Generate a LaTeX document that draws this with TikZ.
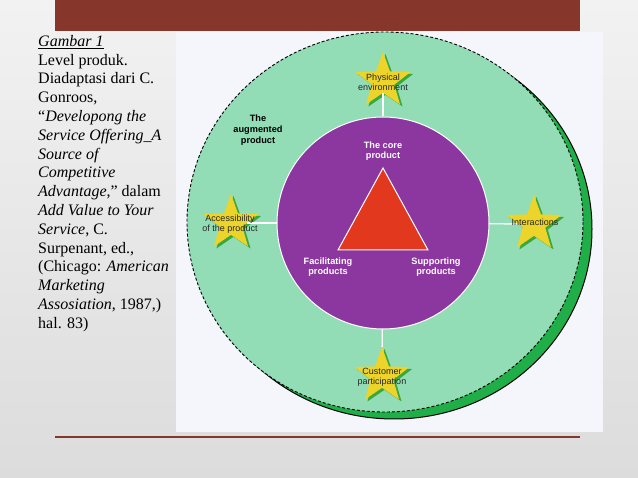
\documentclass[tikz,border=0pt]{standalone}
\usepackage{fontspec}
\setmainfont{Liberation Serif}
\newfontfamily\arialf{Liberation Sans}
\usetikzlibrary{shapes.geometric}
\definecolor{bgtop}{HTML}{F2F2F2}
\definecolor{bgbot}{HTML}{DCDCDC}
\definecolor{barbrown}{HTML}{86362A}
\definecolor{scanbg}{HTML}{F4F6FB}
\definecolor{mint}{HTML}{92DCB6}
\definecolor{shadowgreen}{HTML}{1FAE48}
\definecolor{corepurple}{HTML}{8C37A0}
\definecolor{trired}{HTML}{E2381E}
\definecolor{staryellow}{HTML}{EDD42A}
\definecolor{starshadow}{HTML}{3AA83C}
\definecolor{labeldark}{HTML}{262626}
\tikzset{
  starbase/.style={star, star points=5, star point ratio=2.45, minimum size=58, inner sep=0},
  starface/.style={starbase, fill=staryellow},
  starshade/.style={starbase, fill=starshadow},
  starlabel/.style={font=\arialf\fontsize{9}{10}\selectfont, text=labeldark, align=center, inner sep=0},
  corelabel/.style={font=\arialf\bfseries\fontsize{9.2}{10.6}\selectfont, text=white, align=center, inner sep=0},
  link/.style={draw=white, line width=1.4}
}
\begin{document}
\begin{tikzpicture}[x=1pt,y=-1pt]
\useasboundingbox (0,0) rectangle (638,478);
\shade[top color=bgtop, bottom color=bgbot] (0,0) rectangle (638,478);
\fill[barbrown] (55,0) rectangle (580,31);
\fill[scanbg] (176,32) rectangle (603,432);
\draw[barbrown, line width=1.6] (55,437) -- (580,437);

% caption
\node[anchor=north west, align=left, inner sep=0, font=\fontsize{16}{18.8}\selectfont] (caption) at (38,35) {%
\underline{\textit{Gambar 1}}\\
Level produk.\\
Diadaptasi dari C.\\
Gonroos,\\
“\textit{Developong the}\\
\textit{Service Offering\_A}\\
\textit{Source of}\\
\textit{Competitive}\\
\textit{Advantage},” dalam\\
\textit{Add Value to Your}\\
\textit{Service}, C.\\
Surpenant, ed.,\\
(Chicago: \textit{American}\\
\textit{Marketing}\\
\textit{Assosiation}, 1987,)\\
hal. 83)};

% outer rings
\filldraw[fill=shadowgreen, draw=black, line width=1] (394,229) ellipse [x radius=198, y radius=190];
\filldraw[fill=mint, draw=black, line width=0.9, dash pattern=on 3pt off 2pt] (385,222) ellipse [x radius=198, y radius=190];

% core
\node[circle, minimum size=212, inner sep=0, fill=corepurple, draw=white, line width=1] (core) at (383,223) {};
\filldraw[fill=trired, draw=white, line width=1] (383,168) -- (338,250) -- (428,250) -- cycle;

% stars
\node[starshade] (topsh) at (385.5,83) {};
\node[starface] (topstar) at (383,81) {};
\node[starshade] (leftsh) at (233.5,225) {};
\node[starface] (leftstar) at (231,223) {};
\node[starshade] (rightsh) at (536.5,226) {};
\node[starface] (rightstar) at (534,224) {};
\node[starshade] (botsh) at (384.5,378) {};
\node[starface] (botstar) at (382,376) {};

% links
\draw[link] (core) -- (topstar);
\draw[link] (core) -- (leftstar);
\draw[link] (core) -- (rightstar);
\draw[link] (core) -- (botstar);

% labels
\node[starlabel] (lphys) at (383,82) {Physical\\environment};
\node[starlabel] (lacc) at (230,224) {Accessibility\\of the product};
\node[starlabel] (lint) at (535,222) {Interactions};
\node[starlabel] (lcust) at (382,377) {Customer\\participation};

\node[corelabel] (lcore) at (383,151) {The core\\product};
\node[corelabel] (lfac) at (328,267) {Facilitating\\products};
\node[corelabel] (lsup) at (436,267) {Supporting\\products};
\node[corelabel, text=black, font=\arialf\bfseries\fontsize{9.2}{11}\selectfont] (laug) at (258,130) {The\\augmented\\product};
\end{tikzpicture}
\end{document}
